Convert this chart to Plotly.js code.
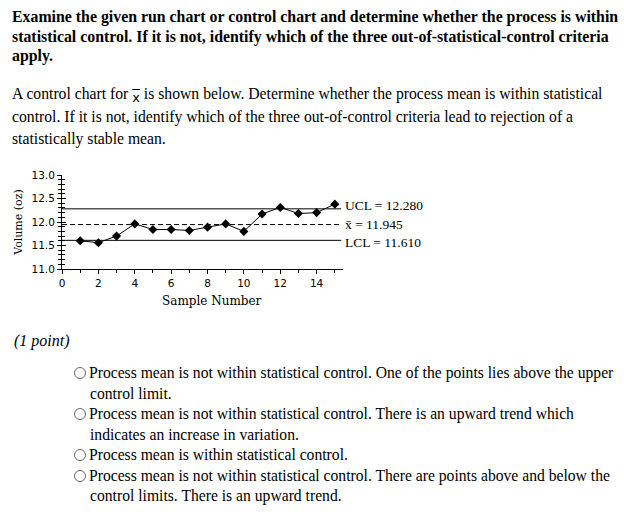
<!DOCTYPE html>
<html>
<head>
<meta charset="utf-8">
<script src="https://cdn.plot.ly/plotly-3.0.1.min.js"></script>
<style>
  html, body { margin:0; padding:0; background:#fff; width:624px; height:512px; overflow:hidden; }
  body { font-family: "Liberation Serif", "Times New Roman", serif; color:#000; position:relative; }
  .blk { position:absolute; white-space:nowrap; }
  .head { left:12px; top:7px; font-size:15.85px; font-weight:bold; line-height:19.5px; }
  .para { left:12px; top:83px; font-size:15.7px; line-height:22px; }
  .xbar { font-family:"DejaVu Sans", sans-serif; font-size:13px; text-decoration:overline; position:relative; top:3px; }
  .pt { left:14px; top:331px; font-size:16px; font-style:italic; line-height:20px; }
  .opts { left:74px; top:363px; font-size:15.65px; line-height:20.5px; }
  .r { display:inline-block; width:12px; height:12px; border:1px solid #666; border-radius:50%; box-sizing:border-box; vertical-align:-1px; margin-right:3px; }
  .ind { padding-left:16px; }
  #chart { position:absolute; left:0; top:160px; width:440px; height:150px; }
</style>
</head>
<body>
<div class="blk head">Examine the given run chart or control chart and determine whether the process is within<br>statistical control. If it is not, identify which of the three out-of-statistical-control criteria<br>apply.</div>
<div class="blk para">A control chart for <span class="xbar">x</span> is shown below. Determine whether the process mean is within statistical<br>control. If it is not, identify which of the three out-of-control criteria lead to rejection of a<br>statistically stable mean.</div>
<div id="chart"></div>
<div class="blk pt">(1 point)</div>
<div class="blk opts"><span class="r"></span>Process mean is not within statistical control. One of the points lies above the upper<br><span class="ind">control limit.</span><br><span class="r"></span>Process mean is not within statistical control. There is an upward trend which<br><span class="ind">indicates an increase in variation.</span><br><span class="r"></span>Process mean is within statistical control.<br><span class="r"></span>Process mean is not within statistical control. There are points above and below the<br><span class="ind">control limits. There is an upward trend.</span></div>
<script>
const sampleNumbers = [1, 2, 3, 4, 5, 6, 7, 8, 9, 10, 11, 12, 13, 14, 15];
const sampleMeans = [11.60, 11.56, 11.70, 11.96, 11.84, 11.84, 11.82, 11.89, 11.96, 11.80, 12.17, 12.31, 12.18, 12.20, 12.38];
const UCL = 12.280;
const centerLine = 11.945;
const LCL = 11.610;
const limitLabels = ["UCL = 12.280", "x\u0304 = 11.945", "LCL = 11.610"];
const xTickVals = [0, 2, 4, 6, 8, 10, 12, 14];
const yTickVals = [11.0, 11.5, 12.0, 12.5, 13.0];
const xTitle = "Sample Number";
const yTitle = "Volume (oz)";

const xMax = 15.45;
const lineEnd = 15.35;
const serif = "DejaVu Serif";
const sans = "DejaVu Sans";

const data = [{
  x: sampleNumbers, y: sampleMeans, type: 'scatter', mode: 'lines+markers',
  line: {color: '#000', width: 1},
  marker: {symbol: 'diamond', size: 7, color: '#000'},
  cliponaxis: false, hoverinfo: 'none'
}, {x: [], y: [], yaxis: 'y2', type: 'scatter', hoverinfo: 'none'}];

const limits = [UCL, centerLine, LCL];
const shapes = limits.map((v, i) => ({
  type: 'line', xref: 'x', yref: 'y', x0: 0, x1: lineEnd, y0: v, y1: v,
  line: {color: '#000', width: 1, dash: i === 1 ? '5px,3px' : 'solid'}
}));
const shifts = [3, 0, -2];
const annotations = limits.map((v, i) => ({
  xref: 'paper', yref: 'y', x: 1, y: v, xanchor: 'left', yanchor: 'middle',
  xshift: 0, yshift: shifts[i], showarrow: false, text: limitLabels[i],
  font: {family: 'Liberation Serif', size: 13.5, color: '#000'}
}));
annotations.push({
  xref: 'paper', yref: 'paper', x: (212 - 62) / 281, y: 0, xanchor: 'center', yanchor: 'middle',
  yshift: -32, showarrow: false, text: xTitle,
  font: {family: serif, size: 12, color: '#000'}
});

const layout = {
  width: 440, height: 150,
  margin: {l: 62, r: 97, t: 15, b: 41},
  paper_bgcolor: 'rgba(0,0,0,0)', plot_bgcolor: 'rgba(0,0,0,0)',
  showlegend: false,
  xaxis: {
    range: [0, xMax], tickvals: xTickVals, ticktext: xTickVals.map(String),
    showgrid: false, zeroline: false, showline: true, linecolor: '#000', linewidth: 1,
    ticks: 'outside', ticklen: 4, tickcolor: '#000',
    minor: {dtick: 1, ticks: 'outside', ticklen: 3, tickcolor: '#000', showgrid: false},
    tickfont: {family: sans, size: 10.5, color: '#000'}
  },
  yaxis: {
    range: [11.0, 13.0], tickvals: yTickVals, ticktext: yTickVals.map(v => v.toFixed(1)),
    showgrid: false, zeroline: false, showline: true, linecolor: '#000', linewidth: 1,
    ticks: 'outside', ticklen: 4, tickcolor: '#000',
    minor: {dtick: 0.1, ticks: 'outside', ticklen: 3, tickcolor: '#000', showgrid: false},
    tickfont: {family: sans, size: 10.5, color: '#000'},
    title: {text: yTitle, font: {family: serif, size: 11, color: '#000'}, standoff: 6}
  },
  yaxis2: {
    overlaying: 'y', range: [11.0, 13.0], tickvals: yTickVals, showticklabels: false,
    showgrid: false, zeroline: false, showline: false,
    ticks: 'inside', ticklen: 4, tickcolor: '#000',
    minor: {dtick: 0.1, ticks: 'inside', ticklen: 3, tickcolor: '#000', showgrid: false}
  },
  shapes: shapes,
  annotations: annotations
};
Plotly.newPlot('chart', data, layout, {staticPlot: true, displayModeBar: false});
</script>
</body>
</html>
